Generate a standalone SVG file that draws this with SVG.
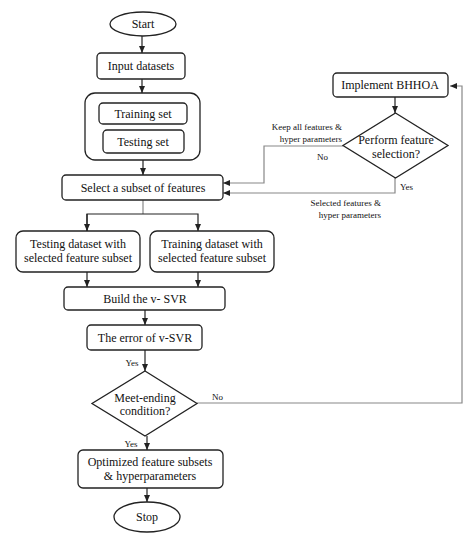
<svg xmlns="http://www.w3.org/2000/svg" width="474" height="540" viewBox="0 0 474 540">
<style>
.b{fill:#fff;stroke:#222;stroke-width:1.3}
.t{font-family:"Liberation Serif","Times New Roman",serif;font-size:12px;fill:#111;text-anchor:middle}
.s{font-family:"Liberation Serif","Times New Roman",serif;font-size:9px;fill:#111}
.c{fill:none;stroke:#222;stroke-width:1.2}
.g{fill:none;stroke:#888;stroke-width:1.2}
</style>
<defs>
<marker id="a" markerWidth="8" markerHeight="8" refX="7" refY="4" orient="auto" markerUnits="userSpaceOnUse">
<path d="M0,1 L7,4 L0,7 Z" fill="#222"/>
</marker>
</defs>
<rect width="474" height="540" fill="#fff"/>
<g id="connectors">
<line class="c" x1="142" y1="36" x2="142" y2="53" marker-end="url(#a)"/>
<line class="c" x1="142" y1="79" x2="142" y2="93" marker-end="url(#a)"/>
<line class="c" x1="143" y1="160" x2="143" y2="175" marker-end="url(#a)"/>
<line class="g" x1="143" y1="200" x2="143" y2="214"/>
<polyline class="c" points="87,231 87,214 198,214 198,231" marker-end="url(#a)"/>
<line class="c" x1="87" y1="214" x2="87" y2="231" marker-end="url(#a)"/>
<line class="c" x1="87" y1="272" x2="87" y2="287" marker-end="url(#a)"/>
<line class="c" x1="198" y1="272" x2="198" y2="287" marker-end="url(#a)"/>
<line class="c" x1="145" y1="310" x2="145" y2="325" marker-end="url(#a)"/>
<line class="c" x1="145" y1="350" x2="145" y2="371" marker-end="url(#a)"/>
<line class="c" x1="147" y1="436" x2="147" y2="450" marker-end="url(#a)"/>
<line class="c" x1="147" y1="488" x2="147" y2="502" marker-end="url(#a)"/>
<polyline class="g" points="197,403 462,403 462,86 450,86" marker-end="url(#a)"/>
<line class="c" x1="395" y1="97" x2="395" y2="113" marker-end="url(#a)"/>
<polyline class="g" points="343,146 264,146 264,183 223,183" marker-end="url(#a)"/>
<polyline class="g" points="395,178 395,193 223,193" marker-end="url(#a)"/>
<text class="s" x="132" y="366" text-anchor="middle">Yes</text>
<text class="s" x="131" y="447" text-anchor="middle">Yes</text>
<text class="s" x="212" y="400">No</text>
<text class="s" x="342" y="130" text-anchor="end">Keep all features &amp;</text>
<text class="s" x="342" y="142" text-anchor="end">hyper parameters</text>
<text class="s" x="317" y="160">No</text>
<text class="s" x="400" y="190">Yes</text>
<text class="s" x="381" y="206" text-anchor="end">Selected features &amp;</text>
<text class="s" x="381" y="218" text-anchor="end">hyper parameters</text>
</g>
<g id="start"><ellipse class="b" cx="143" cy="24" rx="33" ry="12"/><text class="t" x="143" y="28">Start</text></g>
<g id="input"><rect class="b" x="97" y="53" width="88" height="26" rx="4"/><text class="t" x="141" y="70">Input datasets</text></g>
<g id="split"><rect class="b" x="85" y="93" width="115" height="67" rx="10"/>
<rect class="b" x="99" y="103" width="88" height="21" rx="4"/><text class="t" x="143" y="118">Training set</text>
<rect class="b" x="103" y="130" width="81" height="23" rx="4"/><text class="t" x="143" y="146">Testing set</text></g>
<g id="select"><rect class="b" x="62" y="175" width="161" height="25" rx="4"/><text class="t" x="143" y="192">Select a subset of features</text></g>
<g id="testing"><rect class="b" x="16" y="231" width="124" height="41" rx="7"/><text class="t" x="78" y="248">Testing dataset with</text><text class="t" x="78" y="262">selected feature subset</text></g>
<g id="training"><rect class="b" x="150" y="231" width="124" height="41" rx="7"/><text class="t" x="212" y="248">Training dataset with</text><text class="t" x="212" y="262">selected feature subset</text></g>
<g id="build"><rect class="b" x="64" y="287" width="161" height="23" rx="4"/><text class="t" x="145" y="303">Build the v- SVR</text></g>
<g id="error"><rect class="b" x="87" y="325" width="115" height="25" rx="4"/><text class="t" x="145" y="342">The error of v-SVR</text></g>
<g id="meet"><polygon class="b" points="145,371 197,403.5 145,436 92,403.5"/><text class="t" x="145" y="402">Meet-ending</text><text class="t" x="145" y="415">condition?</text></g>
<g id="optimized"><rect class="b" x="78" y="450" width="145" height="38" rx="5"/><text class="t" x="150" y="466">Optimized feature subsets</text><text class="t" x="150" y="480">&amp; hyperparameters</text></g>
<g id="stop"><ellipse class="b" cx="147" cy="517" rx="33" ry="15"/><text class="t" x="147" y="521">Stop</text></g>
<g id="bhhoa"><rect class="b" x="333" y="73" width="115" height="24" rx="4"/><text class="t" x="390" y="89">Implement BHHOA</text></g>
<g id="perform"><polygon class="b" points="395.5,113 448,145.5 395.5,178 343,145.5"/><text class="t" x="396" y="144">Perform feature</text><text class="t" x="396" y="158">selection?</text></g>
</svg>
